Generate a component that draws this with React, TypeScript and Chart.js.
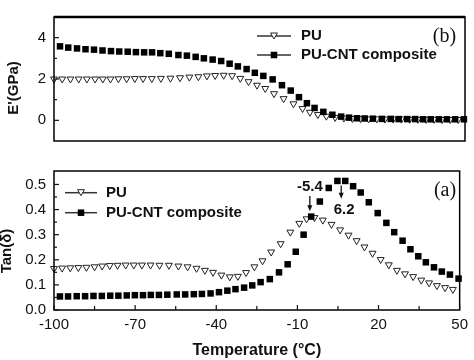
import React, { useEffect, useRef } from "react";
import { Chart, registerables } from "chart.js";

Chart.register(...registerables);

const SANS = '"Liberation Sans", Arial, Helvetica, sans-serif';
const SERIF = '"Liberation Serif", "Times New Roman", serif';
const INK = "#111";

// ---- data ----
const puTemps = [
  -100, -97, -94, -91, -88, -85, -82.2, -79.4, -76.5, -73.5,
  -70.5, -67.5, -64.3, -61, -57.5, -54, -50.6, -47.3, -44.2, -41.2,
  -38.1, -35, -32, -29, -25.9, -22.9, -19.7, -16.2, -12.6, -9.3,
  -6.6, -3.7, -0.6, 2.6, 5.8, 8.9, 11.9, 14.8, 17.8, 20.8,
  23.8, 26.8, 29.8, 32.8, 35.8, 38.7, 41.6, 44.6, 47.5,
];
const puModulus = [
  2.0, 2.0, 2.0, 2.0, 2.0, 2.0, 2.0, 2.0, 2.01, 2.01,
  2.02, 2.02, 2.02, 2.03, 2.04, 2.06, 2.09, 2.11, 2.15, 2.17,
  2.18, 2.16, 2.03, 1.87, 1.7, 1.54, 1.29, 1.05, 0.8, 0.57,
  0.39, 0.28, 0.2, 0.14, 0.11, 0.09, 0.08, 0.07, 0.07, 0.06,
  0.06, 0.06, 0.05, 0.05, 0.05, 0.05, 0.04, 0.04, 0.04,
];
const puTanDelta = [
  0.165, 0.167, 0.168, 0.169, 0.17, 0.172, 0.175, 0.177, 0.178, 0.179,
  0.179, 0.179, 0.179, 0.178, 0.178, 0.175, 0.172, 0.166, 0.158, 0.15,
  0.139, 0.132, 0.134, 0.149, 0.172, 0.196, 0.231, 0.264, 0.31, 0.345,
  0.363, 0.368, 0.358, 0.341, 0.319, 0.298, 0.276, 0.251, 0.226, 0.201,
  0.18, 0.158, 0.144, 0.133, 0.119, 0.108, 0.097, 0.089, 0.082,
];
const cntTemps = [
  -97.8, -94.8, -91.6, -88.5, -85.4, -82.3, -79.2, -76.2, -73.1, -70.1,
  -67.1, -64.2, -61.2, -58.1, -54.6, -51.5, -48.3, -45.3, -42.1, -39.0,
  -35.9, -32.9, -29.7, -26.7, -23.6, -20.2, -16.8, -13.6, -10.6, -7.7,
  -4.9, -1.7, 1.6, 4.8, 7.7, 10.6, 13.4, 16.4, 19.7, 22.9,
  25.8, 28.9, 31.8, 34.7, 37.5, 40.5, 43.4, 46.4, 49.6,
];
const cntModulus = [
  3.58, 3.52, 3.48, 3.44, 3.42, 3.38, 3.35, 3.33, 3.32, 3.3,
  3.29, 3.29, 3.25, 3.22, 3.16, 3.13, 3.07, 3.0, 2.94, 2.87,
  2.74, 2.61, 2.48, 2.3, 2.15, 1.98, 1.7, 1.44, 1.12, 0.83,
  0.6, 0.41, 0.27, 0.18, 0.13, 0.1, 0.09, 0.08, 0.07, 0.07,
  0.06, 0.06, 0.06, 0.05, 0.05, 0.05, 0.05, 0.05, 0.05,
];
const cntTanDelta = [
  0.054, 0.054, 0.055, 0.055, 0.056, 0.056, 0.057, 0.057, 0.058, 0.059,
  0.059, 0.06, 0.06, 0.061, 0.062, 0.062, 0.063, 0.064, 0.066, 0.071,
  0.077, 0.083, 0.089, 0.098, 0.111, 0.123, 0.15, 0.182, 0.232, 0.3,
  0.372, 0.432, 0.486, 0.514, 0.514, 0.493, 0.468, 0.429, 0.386, 0.347,
  0.31, 0.276, 0.242, 0.214, 0.19, 0.17, 0.153, 0.141, 0.125,
];

const seriesLabels = ["PU", "PU-CNT composite"];
const xTickValues = [-100, -70, -40, -10, 20, 50];
const xMinorTicks = [-85, -55, -25, 5, 35];
const modulusTicks = [0, 2, 4];
const modulusMinorTicks = [1, 3];
const tanTicks = [0, 0.1, 0.2, 0.3, 0.4, 0.5];
const tanMinorTicks = [0.05, 0.15, 0.25, 0.35, 0.45];
const peakTemps = [-5.4, 6.2];
const peakLabels = ["-5.4", "6.2"];

const TRI_R = 4;
const SQ_R = 4.6;

function pathDownTriangle(ctx: CanvasRenderingContext2D, x: number, y: number, r: number) {
  ctx.beginPath();
  ctx.moveTo(x, y + r);
  ctx.lineTo(x - 0.866 * r, y - 0.5 * r);
  ctx.lineTo(x + 0.866 * r, y - 0.5 * r);
  ctx.closePath();
  ctx.fillStyle = "#fff";
  ctx.fill();
  ctx.strokeStyle = "#222";
  ctx.lineWidth = 1;
  ctx.stroke();
}
function pathSquare(ctx: CanvasRenderingContext2D, x: number, y: number, r: number) {
  const s = Math.SQRT1_2 * r;
  ctx.fillStyle = "#000";
  ctx.fillRect(x - s, y - s, 2 * s, 2 * s);
}

type DecorCfg = {
  id: string;
  yTitle: string;
  yTitleX: number;
  yTitleDy: number;
  yMajor: number[];
  yMinor: number[];
  xMajor: number[];
  xMinor: number[];
  topLine: number;
  legendLineX: [number, number];
  legendTextX: number;
  legendRowsY: number[];
  panelLabel: string;
  panelLabelX: number;
  panelLabelY: number;
  annotations?: { t: number; label: string; textY: number; from: number; to: number; dx: number }[];
};

function makeDecor(cfg: DecorCfg) {
  return {
    id: cfg.id,
    afterDatasetsDraw(chart: any) {
      const { ctx, chartArea: a, scales } = chart;
      const xs = scales.x;
      const ys = scales.y;
      ctx.save();
      // frame
      ctx.strokeStyle = "#000";
      ctx.lineWidth = 1.5;
      ctx.strokeRect(a.left, a.top, a.right - a.left, a.bottom - a.top);
      if (cfg.topLine > 1.5) {
        ctx.lineWidth = cfg.topLine;
        ctx.beginPath();
        ctx.moveTo(a.left, a.top);
        ctx.lineTo(a.right, a.top);
        ctx.stroke();
      }
      // inward ticks
      ctx.lineWidth = 1.2;
      ctx.strokeStyle = "#111";
      const hTick = (v: number, len: number) => {
        const py = ys.getPixelForValue(v);
        ctx.beginPath();
        ctx.moveTo(a.left, py);
        ctx.lineTo(a.left + len, py);
        ctx.stroke();
      };
      const vTick = (v: number, len: number) => {
        const px = xs.getPixelForValue(v);
        ctx.beginPath();
        ctx.moveTo(px, a.bottom);
        ctx.lineTo(px, a.bottom - len);
        ctx.stroke();
      };
      cfg.yMajor.forEach((v) => hTick(v, 5));
      cfg.yMinor.forEach((v) => hTick(v, 3));
      cfg.xMajor.forEach((v) => vTick(v, 5));
      cfg.xMinor.forEach((v) => vTick(v, 4));
      // y title
      ctx.save();
      ctx.translate(cfg.yTitleX, (a.top + a.bottom) / 2 + cfg.yTitleDy);
      ctx.rotate(-Math.PI / 2);
      ctx.font = `bold 15px ${SANS}`;
      ctx.fillStyle = INK;
      ctx.textAlign = "center";
      ctx.textBaseline = "middle";
      ctx.fillText(cfg.yTitle, 0, 0);
      ctx.restore();
      // legend
      seriesLabels.forEach((lab, i) => {
        const yy = a.top + cfg.legendRowsY[i];
        const x0 = a.left + cfg.legendLineX[0];
        const x1 = a.left + cfg.legendLineX[1];
        ctx.strokeStyle = "#333";
        ctx.lineWidth = 1.5;
        ctx.beginPath();
        ctx.moveTo(x0, yy);
        ctx.lineTo(x1, yy);
        ctx.stroke();
        const mx = (x0 + x1) / 2;
        if (i === 0) pathDownTriangle(ctx, mx, yy - 1, TRI_R);
        else pathSquare(ctx, mx, yy, SQ_R);
        ctx.font = `bold 15px ${SANS}`;
        ctx.fillStyle = INK;
        ctx.textAlign = "left";
        ctx.textBaseline = "middle";
        ctx.fillText(lab, a.left + cfg.legendTextX, yy);
      });
      // panel label
      ctx.font = `20px ${SERIF}`;
      ctx.fillStyle = INK;
      ctx.textAlign = "center";
      ctx.textBaseline = "middle";
      ctx.fillText(cfg.panelLabel, a.left + cfg.panelLabelX, a.top + cfg.panelLabelY);
      // annotations
      (cfg.annotations || []).forEach((an) => {
        const px = xs.getPixelForValue(an.t);
        const yFrom = ys.getPixelForValue(an.from);
        const yTo = ys.getPixelForValue(an.to);
        ctx.strokeStyle = "#111";
        ctx.lineWidth = 1.3;
        ctx.beginPath();
        ctx.moveTo(px, yFrom);
        ctx.lineTo(px, yTo - 4);
        ctx.stroke();
        ctx.fillStyle = "#111";
        ctx.beginPath();
        ctx.moveTo(px, yTo);
        ctx.lineTo(px - 2.5, yTo - 6);
        ctx.lineTo(px + 2.5, yTo - 6);
        ctx.closePath();
        ctx.fill();
        ctx.font = `bold 15px ${SANS}`;
        ctx.textAlign = "center";
        ctx.textBaseline = "middle";
        ctx.fillText(an.label, px + an.dx, ys.getPixelForValue(an.textY));
      });
      ctx.restore();
    },
  };
}

const puStyle = {
  pointStyle: "triangle",
  pointRotation: 180,
  rotation: 180,
  pointRadius: TRI_R,
  pointBackgroundColor: "#fff",
  pointBorderColor: "#222",
  pointBorderWidth: 1,
  showLine: false,
  order: 2,
  clip: false,
};
const cntStyle = {
  pointStyle: "rect",
  pointRadius: SQ_R,
  pointBackgroundColor: "#000",
  pointBorderColor: "#000",
  pointBorderWidth: 0,
  showLine: false,
  order: 1,
  clip: false,
};

function topConfig(): any {
  return {
    type: "scatter",
    data: {
      datasets: [
        { label: seriesLabels[0], data: puTemps.map((t, i) => ({ x: t, y: puModulus[i] })), ...puStyle },
        { label: seriesLabels[1], data: cntTemps.map((t, i) => ({ x: t, y: cntModulus[i] })), ...cntStyle },
      ],
    },
    options: {
      responsive: false,
      devicePixelRatio: 1,
      animation: false,
      events: [],
      layout: { autoPadding: false, padding: { left: 0, right: 9, top: 1, bottom: 3 } },
      plugins: { legend: { display: false }, tooltip: { enabled: false } },
      scales: {
        x: { type: "linear", min: -100, max: 50, display: false },
        y: {
          type: "linear",
          min: -1,
          max: 5,
          position: "left",
          afterFit: (s: any) => { s.width = 54; },
          afterBuildTicks: (s: any) => { s.ticks = modulusTicks.map((v) => ({ value: v })); },
          ticks: { font: { family: SANS, size: 15 }, color: INK, padding: 8, callback: (v: any) => String(v) },
          grid: { display: false, drawTicks: false },
          border: { display: false },
        },
      },
    },
    plugins: [
      makeDecor({
        id: "decorTop",
        yTitle: "E'(GPa)",
        yTitleX: 14,
        yTitleDy: 9,
        yMajor: modulusTicks,
        yMinor: modulusMinorTicks,
        xMajor: [],
        xMinor: [],
        topLine: 2.5,
        legendLineX: [203, 237],
        legendTextX: 247,
        legendRowsY: [19, 38],
        panelLabel: "(b)",
        panelLabelX: 390.5,
        panelLabelY: 20,
      }),
    ],
  };
}

function bottomConfig(): any {
  return {
    type: "scatter",
    data: {
      datasets: [
        { label: seriesLabels[0], data: puTemps.map((t, i) => ({ x: t, y: puTanDelta[i] })), ...puStyle },
        { label: seriesLabels[1], data: cntTemps.map((t, i) => ({ x: t, y: cntTanDelta[i] })), ...cntStyle },
      ],
    },
    options: {
      responsive: false,
      devicePixelRatio: 1,
      animation: false,
      events: [],
      layout: { autoPadding: false, padding: { left: 0, right: 9, top: 1, bottom: 0 } },
      plugins: { legend: { display: false }, tooltip: { enabled: false } },
      scales: {
        x: {
          type: "linear",
          min: -100,
          max: 50,
          afterFit: (s: any) => { s.height = 50; },
          afterBuildTicks: (s: any) => { s.ticks = xTickValues.map((v) => ({ value: v })); },
          ticks: { font: { family: SANS, size: 15 }, color: INK, padding: 6, maxRotation: 0, callback: (v: any) => String(v) },
          grid: { display: false, drawTicks: false },
          border: { display: false },
          title: {
            display: true,
            text: "Temperature (°C)",
            font: { family: SANS, size: 16, weight: "bold" },
            color: INK,
            padding: { top: 0, bottom: 0 },
          },
        },
        y: {
          type: "linear",
          min: 0,
          max: 0.5536,
          position: "left",
          afterFit: (s: any) => { s.width = 54; },
          afterBuildTicks: (s: any) => { s.ticks = tanTicks.map((v) => ({ value: v })); },
          ticks: { font: { family: SANS, size: 15 }, color: INK, padding: 8, callback: (v: any) => Number(v).toFixed(1) },
          grid: { display: false, drawTicks: false },
          border: { display: false },
        },
      },
    },
    plugins: [
      makeDecor({
        id: "decorBottom",
        yTitle: "Tan(δ)",
        yTitleX: 7,
        yTitleDy: 10.5,
        yMajor: tanTicks,
        yMinor: tanMinorTicks,
        xMajor: xTickValues,
        xMinor: xMinorTicks,
        topLine: 1.5,
        legendLineX: [11, 43],
        legendTextX: 52,
        legendRowsY: [21.7, 41.7],
        panelLabel: "(a)",
        panelLabelX: 391,
        panelLabelY: 20,
        annotations: [
          { t: peakTemps[0], label: peakLabels[0], textY: 0.489, from: 0.454, to: 0.393, dx: 0 },
          { t: peakTemps[1], label: peakLabels[1], textY: 0.398, from: 0.496, to: 0.443, dx: 3 },
        ],
      }),
    ],
  };
}

function Panel({ make, top, height }: { make: () => any; top: number; height: number }) {
  const ref = useRef<HTMLCanvasElement | null>(null);
  useEffect(() => {
    if (!ref.current) return;
    const chart = new Chart(ref.current, make());
    return () => chart.destroy();
  }, [make]);
  return (
    <canvas
      ref={ref}
      width={474}
      height={height}
      style={{ position: "absolute", left: 0, top, width: 474, height }}
    />
  );
}

export default function App() {
  return (
    <div
      style={{
        position: "fixed",
        left: 0,
        top: 0,
        width: 474,
        height: 360,
        background: "#fff",
        overflow: "hidden",
      }}
    >
      <Panel make={topConfig} top={0} height={158} />
      <Panel make={bottomConfig} top={154} height={206} />
    </div>
  );
}
